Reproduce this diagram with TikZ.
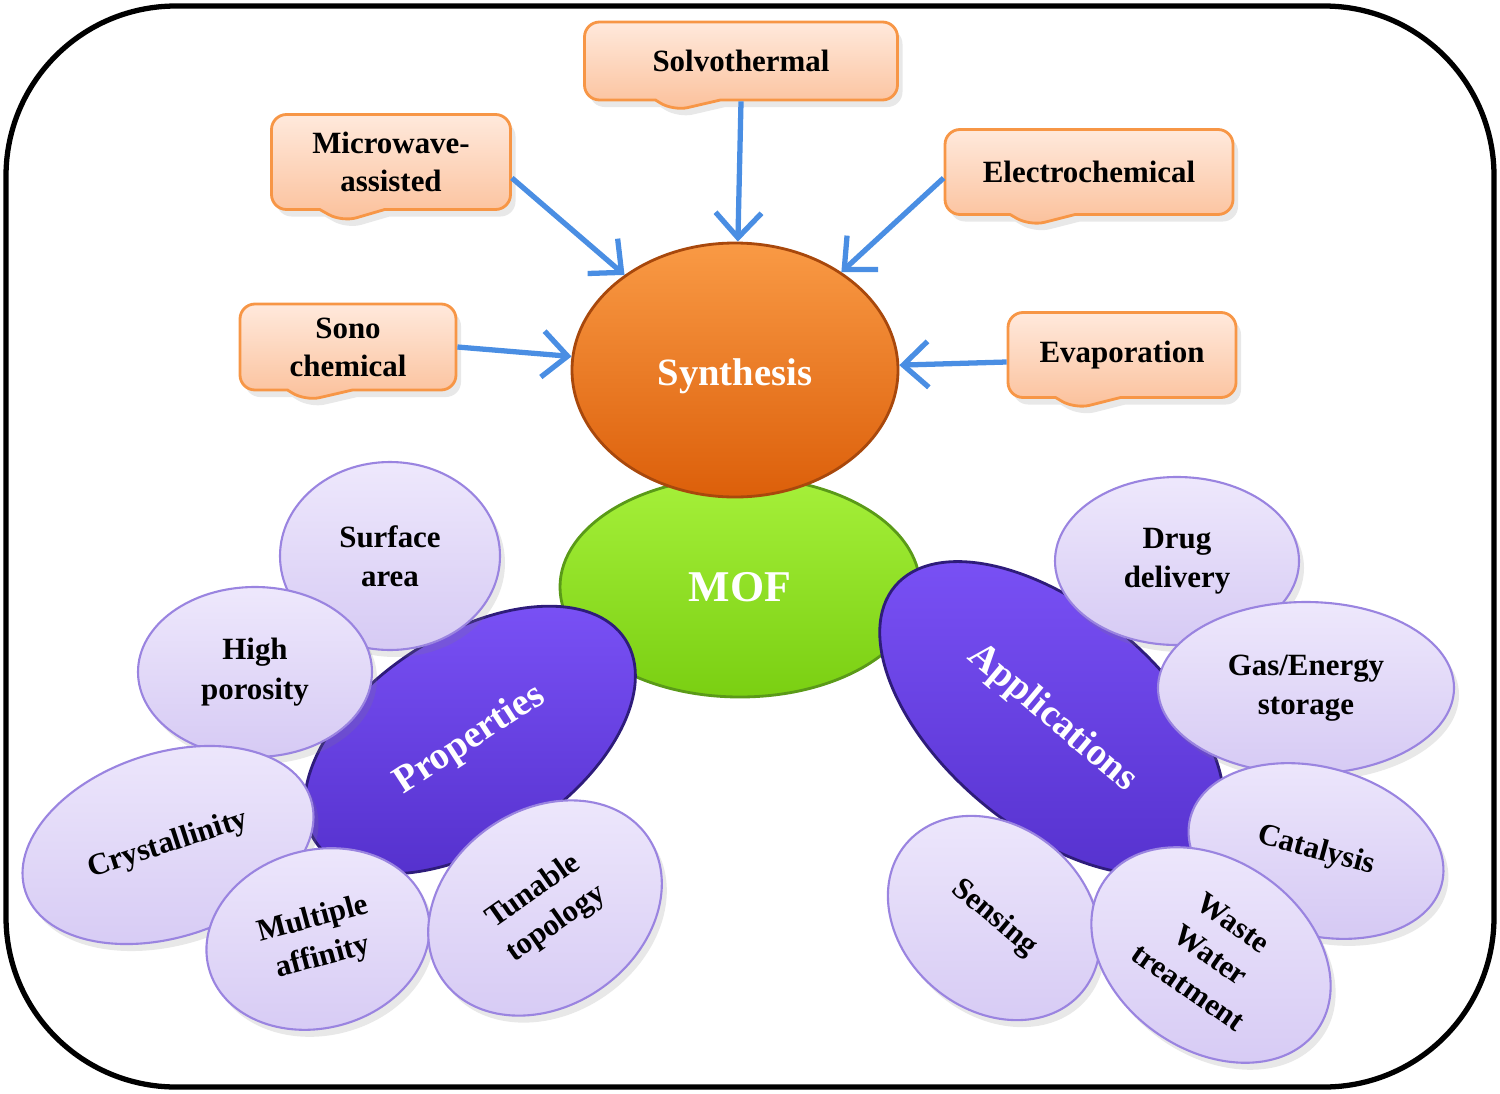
\documentclass[tikz,border=0pt]{standalone}
\usepackage{fontspec}
\setmainfont{Liberation Serif}
\usetikzlibrary{shapes.geometric,shapes.callouts,arrows.meta,shadows}

\definecolor{peachH}{HTML}{FFE9DC}
\definecolor{peachB}{HTML}{FBC09A}
\definecolor{orangeB}{HTML}{F79646}
\definecolor{synthH}{HTML}{F99A45}
\definecolor{synthB}{HTML}{DC5F0A}
\definecolor{synthD}{HTML}{A8480C}
\definecolor{vertH}{HTML}{A6F03A}
\definecolor{vertB}{HTML}{7ACF12}
\definecolor{vertD}{HTML}{5A9A18}
\definecolor{violetH}{HTML}{7B52F7}
\definecolor{violetB}{HTML}{5430CC}
\definecolor{violetD}{HTML}{2E1C7A}
\definecolor{lilasH}{HTML}{EEE8FC}
\definecolor{lilasB}{HTML}{D6CAF4}
\definecolor{lilasD}{HTML}{9A84E0}
\definecolor{bleu}{HTML}{4A8EE3}

\begin{document}
\begin{tikzpicture}[x=0.1mm,y=-0.1mm,
    ombre/.style={drop shadow={opacity=0.18,shadow xshift=0.5mm,shadow yshift=-0.7mm}},
    boite/.style={rectangle callout,callout pointer width=6.5mm,rounded corners=1.5mm,
      draw=orangeB,line width=0.8pt,top color=peachH,bottom color=peachB,ombre,
      font=\bfseries\fontsize{8.8}{10.8}\selectfont,align=center},
    petit/.style={ellipse,inner sep=0pt,draw=lilasD,line width=0.6pt,
      top color=lilasH,bottom color=lilasB,ombre,
      font=\bfseries\fontsize{8.8}{11.2}\selectfont,align=center},
    grand/.style={ellipse,inner sep=0pt,draw=violetD,line width=0.8pt,
      top color=violetH,bottom color=violetB,text=white,
      font=\bfseries\fontsize{11}{13}\selectfont},
    fleche/.style={draw=bleu,line width=1.5pt,-{Straight Barb[length=2.5mm,width=4.6mm]}}]

  \useasboundingbox (0,0) rectangle (1500,1093);
  \draw[line width=1.5pt,rounded corners=17mm] (6,6) rectangle (1494,1087);

  % centre
  \node[ellipse,draw=vertD,line width=0.8pt,top color=vertH,bottom color=vertB,
    minimum width=36mm,minimum height=22mm,text=white,
    font=\bfseries\fontsize{12.5}{15}\selectfont] (M) at (740,587) {MOF};
  \node[ellipse,draw=synthD,line width=0.8pt,top color=synthH,bottom color=synthB,
    minimum width=32.6mm,minimum height=25.4mm,text=white,text height=3mm,text depth=0mm,
    font=\bfseries\fontsize{11}{13}\selectfont] (S) at (735,370) {Synthesis};
  \node[grand,rotate=33,minimum width=37mm,minimum height=21mm] (P) at (470,740) {Properties};
  \node[grand,rotate=-40,minimum width=41mm,minimum height=22mm] (A) at (1052,718) {Applications};

  % proprietes
  \begin{scope}[every node/.style={petit}]
    \node[minimum width=22mm,minimum height=18.8mm] (Sa) at (390,556) {Surface\\area};
    \node[minimum width=23.4mm,minimum height=17mm] (Hp) at (255,672) {High\\porosity};
    \node[rotate=18,minimum width=30mm,minimum height=18.4mm] (Cr) at (168,845) {Crystallinity};
    \node[rotate=15,minimum width=22.6mm,minimum height=17.8mm] (Ma) at (318,939) {Multiple\\affinity};
    \node[rotate=35,minimum width=25mm,minimum height=19.6mm] (Tt) at (545,908) {Tunable\\topology};
  \end{scope}

  % applications
  \begin{scope}[every node/.style={petit}]
    \node[minimum width=24.4mm,minimum height=16.8mm] (Dd) at (1177,561) {Drug\\delivery};
    \node[minimum width=29.6mm,minimum height=17.2mm] (Ge) at (1306,688) {Gas/Energy\\storage};
    \node[rotate=-15,minimum width=26mm,minimum height=16.8mm] (Ca) at (1316,851) {Catalysis};
    \node[rotate=-40,minimum width=23mm,minimum height=18.4mm] (Se) at (994,918) {Sensing};
    \node[rotate=-35,minimum width=26mm,minimum height=19mm] (Ww) at (1211,955) {Waste\\Water\\treatment};
  \end{scope}

  % synthese
  \begin{scope}[every node/.style={boite}]
    \node[minimum width=31.3mm,minimum height=7.8mm,callout absolute pointer={(673,111)}] (Sv) at (741,61) {Solvothermal};
    \node[minimum width=23.9mm,minimum height=9.5mm,callout absolute pointer={(342,222)}] (Mw) at (391,162) {Microwave-\\assisted};
    \node[minimum width=28.8mm,minimum height=8.5mm,callout absolute pointer={(1030,226)}] (El) at (1089,172) {Electrochemical};
    \node[minimum width=21.6mm,minimum height=8.6mm,callout absolute pointer={(305,401)}] (So) at (348,347) {Sono\\chemical};
    \node[minimum width=22.8mm,minimum height=8.5mm,callout absolute pointer={(1075,409)}] (Ev) at (1122,355) {Evaporation};
  \end{scope}

  \foreach \depart/\decal in {Sv.south/0, Mw.east/-1.6, El.west/-0.6, So.east/0, Ev.west/-0.7} {
    \draw [fleche] ([yshift=\decal mm]\depart) -- (S);
  }
\end{tikzpicture}
\end{document}
